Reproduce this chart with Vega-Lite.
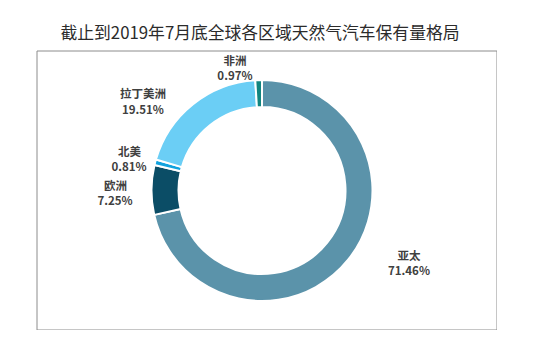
{
  "$schema": "https://vega.github.io/schema/vega-lite/v6.json",
  "width": 460,
  "height": 279,
  "autosize": {"type": "none"},
  "padding": {"left": 37, "top": 51, "right": 0, "bottom": 0},
  "background": "white",
  "config": {
    "view": {"stroke": null},
    "text": {"font": "Noto Sans CJK SC", "fontWeight": "bold", "fontSize": 11.5, "color": "#404040"}
  },
  "title": {
    "text": "截止到2019年7月底全球各区域天然气汽车保有量格局",
    "font": "Noto Sans CJK SC",
    "fontSize": 16.8,
    "fontWeight": "normal",
    "color": "#2b2b2b",
    "anchor": "middle",
    "frame": "group",
    "dx": -7,
    "dy": 29,
    "offset": 9
  },
  "data": {
    "values": [
      {"region": "亚太", "share": 0.7146, "order": 1},
      {"region": "欧洲", "share": 0.0725, "order": 2},
      {"region": "北美", "share": 0.0081, "order": 3},
      {"region": "拉丁美洲", "share": 0.1951, "order": 4},
      {"region": "非洲", "share": 0.0097, "order": 5}
    ]
  },
  "layer": [
    {
      "data": {"values": [{"frame": "plot"}]},
      "mark": {"type": "rect", "x": 0, "y": 0, "x2": {"expr": "width"}, "y2": {"expr": "height"}, "fill": null, "stroke": "#8c8c8c", "strokeWidth": 1}
    },
    {
      "encoding": {
        "theta": {"field": "share", "type": "quantitative", "stack": true},
        "order": {"field": "order", "type": "quantitative"}
      },
      "layer": [
        {
          "mark": {"type": "arc", "innerRadius": 83.5, "outerRadius": 110.5, "stroke": "white", "strokeWidth": 2, "x": 225},
          "encoding": {
            "color": {
              "field": "region",
              "type": "nominal",
              "scale": {"domain": ["亚太", "欧洲", "北美", "拉丁美洲", "非洲"], "range": ["#5B93AA", "#0B4D66", "#11A2DE", "#6BCEF5", "#12857F"]},
              "legend": null
            }
          }
        },
        {
          "mark": {"type": "text", "radius": 140, "x": 225, "dx": 37.6, "dy": -21.3},
          "encoding": {"text": {"condition": {"test": "datum.region === '亚太'", "field": "region", "type": "nominal"}, "value": ""}}
        },
        {
          "mark": {"type": "text", "radius": 140, "x": 225, "dx": 37.6, "dy": -6.3},
          "encoding": {"text": {"condition": {"test": "datum.region === '亚太'", "field": "share", "type": "quantitative", "format": ".2%"}, "value": ""}}
        },
        {
          "mark": {"type": "text", "radius": 140, "x": 225, "dx": -6.5, "dy": -2.8},
          "encoding": {"text": {"condition": {"test": "datum.region === '欧洲'", "field": "region", "type": "nominal"}, "value": ""}}
        },
        {
          "mark": {"type": "text", "radius": 140, "x": 225, "dx": -7, "dy": 12.2},
          "encoding": {"text": {"condition": {"test": "datum.region === '欧洲'", "field": "share", "type": "quantitative", "format": ".2%"}, "value": ""}}
        },
        {
          "mark": {"type": "text", "radius": 140, "x": 225, "dx": 2.9, "dy": -2.2},
          "encoding": {"text": {"condition": {"test": "datum.region === '北美'", "field": "region", "type": "nominal"}, "value": ""}}
        },
        {
          "mark": {"type": "text", "radius": 140, "x": 225, "dx": 2.4, "dy": 12.8},
          "encoding": {"text": {"condition": {"test": "datum.region === '北美'", "field": "share", "type": "quantitative", "format": ".2%"}, "value": ""}}
        },
        {
          "mark": {"type": "text", "radius": 140, "x": 225, "dx": -31.7, "dy": 13.9},
          "encoding": {"text": {"condition": {"test": "datum.region === '拉丁美洲'", "field": "region", "type": "nominal"}, "value": ""}}
        },
        {
          "mark": {"type": "text", "radius": 140, "x": 225, "dx": -31.7, "dy": 29.4},
          "encoding": {"text": {"condition": {"test": "datum.region === '拉丁美洲'", "field": "share", "type": "quantitative", "format": ".2%"}, "value": ""}}
        },
        {
          "mark": {"type": "text", "radius": 140, "x": 225, "dx": -22.8, "dy": 11.5},
          "encoding": {"text": {"condition": {"test": "datum.region === '非洲'", "field": "region", "type": "nominal"}, "value": ""}}
        },
        {
          "mark": {"type": "text", "radius": 140, "x": 225, "dx": -22.8, "dy": 26.5},
          "encoding": {"text": {"condition": {"test": "datum.region === '非洲'", "field": "share", "type": "quantitative", "format": ".2%"}, "value": ""}}
        }
      ]
    }
  ]
}
